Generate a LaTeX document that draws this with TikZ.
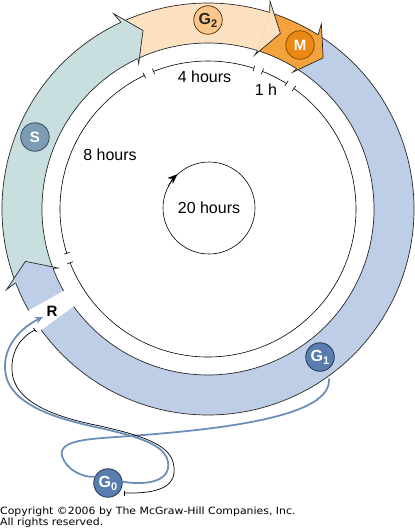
\documentclass[tikz,border=0pt]{standalone}
\usepackage{fontspec}
\setmainfont{Liberation Sans}
\newfontfamily\cfont[FakeStretch=1.09]{DejaVu Sans}
\usetikzlibrary{arrows.meta}
\definecolor{sband}{RGB}{201,222,222}
\definecolor{gtwoband}{RGB}{253,226,193}
\definecolor{mband}{RGB}{243,162,62}
\definecolor{goneband}{RGB}{189,206,230}
\definecolor{sbadge}{RGB}{125,156,180}
\definecolor{sbadgeline}{RGB}{50,75,95}
\definecolor{gtwobadge}{RGB}{250,198,140}
\definecolor{gtwoline}{RGB}{90,55,20}
\definecolor{mbadge}{RGB}{233,136,18}
\definecolor{mbadgeline}{RGB}{140,75,0}
\definecolor{gbadge}{RGB}{90,125,175}
\definecolor{gbadgeline}{RGB}{30,52,85}
\definecolor{loopblue}{RGB}{108,143,186}
\definecolor{outline}{RGB}{40,40,40}
\def\Ro{206}
\def\Ri{166}
\newcommand\bandfill[3]{\fill[#1] (#2:\Ro) arc[start angle=#2,end angle=#3,radius=\Ro] -- (#3:\Ri) arc[start angle=#3,end angle=#2,radius=\Ri] -- cycle;}
\newcommand\bandedge[2]{\draw[bandline] (#1:\Ro) arc[start angle=#1,end angle=#2,radius=\Ro]; \draw[bandline] (#1:\Ri) arc[start angle=#1,end angle=#2,radius=\Ri];}
\newcommand\bandhead[2]{%
  \pgfmathsetmacro\hb{#2+0.8}\pgfmathsetmacro\ht{#2-5}\pgfmathsetmacro\hi{#2+0.5}%
  \fill[#1] (#2:\Ro) -- (\hb:217) -- (\ht:190) -- (\hi:161) -- (#2:\Ri) -- cycle;
  \draw[bandline] (#2:\Ro) -- (\hb:217) -- (\ht:190) -- (\hi:161) -- (#2:\Ri);}
\newcommand\timearc[2]{\draw[thinline] (#1:148) arc[start angle=#1,end angle=#2,radius=148];
  \draw[thinline] (#1:145) -- (#1:151); \draw[thinline] (#2:145) -- (#2:151);}
\tikzset{
  bandline/.style={draw=outline,line width=0.7pt,line join=miter},
  thinline/.style={draw=black,line width=0.6pt},
  badge/.style={circle,minimum size=28.5pt,inner sep=0pt,line width=0.8pt,font=\bfseries\fontsize{15}{15}\selectfont},
  gbadge/.style={badge,font=\bfseries\fontsize{16}{16}\selectfont},
  hourlabel/.style={anchor=base,inner sep=0pt,font=\fontsize{16}{16}\selectfont},
  blueloop/.style={draw=loopblue,line width=1.8pt,line cap=round},
  blackloop/.style={draw=black,line width=0.7pt},
}
\begin{document}
\begin{tikzpicture}[x=1pt,y=1pt]
\useasboundingbox (0,0) rectangle (415,-528);
\begin{scope}[shift={(208,-209)}]
  % band fills
  \bandfill{goneband}{57.7}{-144}
  \bandfill{goneband}{209.5}{200.7}
  \bandfill{sband}{201}{114.7}
  \bandfill{gtwoband}{115}{72.3}
  \bandfill{mband}{72.6}{57.4}
  % band edges
  \bandedge{57.7}{-144}
  \bandedge{209.5}{201}
  \bandedge{201}{115}
  \bandedge{115}{72.6}
  \bandedge{72.6}{57.7}
  % heads
  \bandhead{goneband}{201}
  \bandhead{sband}{115}
  \bandhead{gtwoband}{72.6}
  \bandhead{mband}{57.7}
  % time arcs
  \timearc{197.4}{115.5}
  \timearc{111.6}{71.9}
  \timearc{68.4}{58}
  \timearc{54.5}{-158.7}
\end{scope}
% inner circle
\node[circle,draw,line width=0.6pt,minimum size=92pt,inner sep=0pt] (inner) at (209,-208) {};
\draw[line width=0.6pt,-{Stealth[length=10pt,width=8pt]}] (inner.152) arc[start angle=152,end angle=133,radius=46];
% labels
\node[hourlabel] (h20) at (209,-213) {20 hours};
\node[hourlabel] (h4) at (204.5,-82) {4 hours};
\node[hourlabel] (h1) at (266,-95) {1 h};
\node[hourlabel] (h8) at (110,-160) {8 hours};
\node[anchor=base,inner sep=0pt,font=\bfseries\fontsize{15}{15}\selectfont] (r) at (52,-316) {R};
% badges
\node[badge,fill=sbadge,draw=sbadgeline,text=white] (s) at (35,-137) {S};
\node[gbadge,fill=gtwobadge,draw=gtwoline,text=black!85] (g2) at (208,-20) {G\raisebox{-3pt}{\fontsize{11}{11}\selectfont 2}};
\node[badge,fill=mbadge,draw=mbadgeline,text=white] (m) at (300,-45) {M};
\node[gbadge,fill=gbadge,draw=gbadgeline,text=white] (g1) at (320,-357) {G\raisebox{-3pt}{\fontsize{11}{11}\selectfont 1}};
\node[gbadge,fill=gbadge,draw=gbadgeline,text=white] (g0) at (108,-483) {G\raisebox{-3pt}{\fontsize{11}{11}\selectfont 0}};
% loops
\coordinate (p1s) at (329,-379);
\coordinate (p2e) at (43,-317);
\coordinate (bks) at (124,-493);
\coordinate (bke) at (35,-330);
\draw[blueloop] (p1s) .. controls (331,-410) and (260,-426) .. (143,-435)
  .. controls (95,-439) and (58,-438) .. (62,-456)
  .. controls (66,-470) and (84,-478) .. (g0.155);
\draw[blueloop,-{Stealth[length=8pt,width=7pt]}] (g0.5) .. controls (150,-486) and (171,-480) .. (168,-462)
  .. controls (165,-445) and (140,-437) .. (100,-428)
  .. controls (58,-419) and (6,-405) .. (5,-368)
  .. controls (4,-345) and (22,-327) .. (p2e);
\draw[blackloop] (bks) .. controls (162,-494) and (179,-485) .. (173,-462)
  .. controls (168,-444) and (140,-435) .. (100,-426)
  .. controls (60,-418) and (13,-404) .. (12,-370)
  .. controls (11,-350) and (22,-336) .. (bke);
\draw[blackloop] (124,-490.5) -- (124,-495.5);
\draw[blackloop] (33.5,-328) -- (36.5,-332);
% copyright
\node[anchor=base west,inner sep=0pt,font=\cfont\fontsize{10}{10}\selectfont] (c1) at (0,-514) {Copyright ©2006 by The McGraw-Hill Companies, Inc.};
\node[anchor=base west,inner sep=0pt,font=\cfont\fontsize{10}{10}\selectfont] (c2) at (0,-525) {All rights reserved.};
\end{tikzpicture}
\end{document}
